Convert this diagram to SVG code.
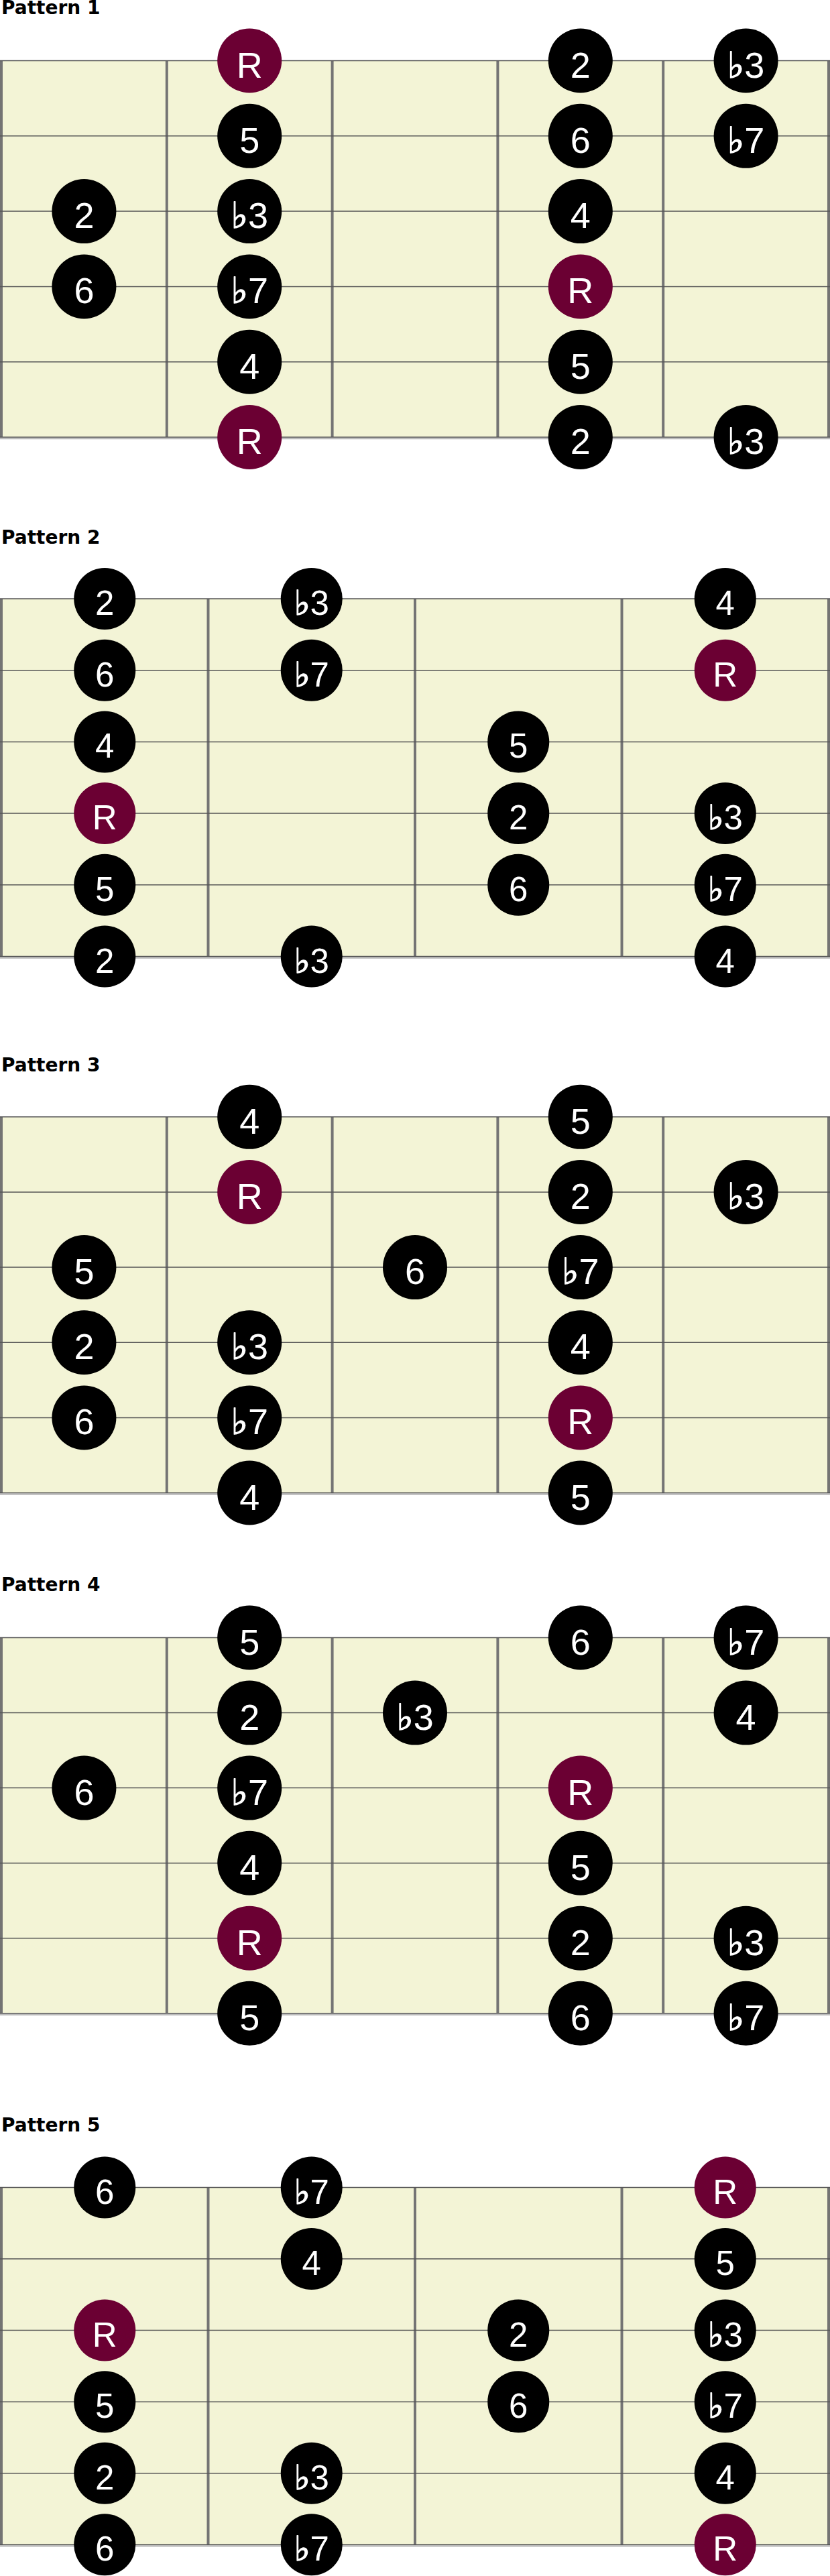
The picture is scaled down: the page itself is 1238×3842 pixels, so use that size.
<svg xmlns="http://www.w3.org/2000/svg" width="1238" height="3842" viewBox="0 0 1238 3842">
<style>
.title{font-family:"DejaVu Sans","Liberation Sans",sans-serif;font-weight:bold;font-size:28px;fill:#000}
.board{fill:#F3F4D6}
.fret{stroke:#747474;stroke-width:4}
.str{stroke:#555;stroke-width:1.5}
.edge{stroke:#bbb;stroke-width:2.5}
.n{fill:#000}
.r{fill:#6B0033}
.lb{font-family:"Liberation Sans","DejaVu Sans",sans-serif;fill:#fff;text-anchor:middle}
.fl{font-family:"DejaVu Sans",sans-serif;stroke:#fff;stroke-width:1.3}
.L .lb{font-size:54px}
.S .lb{font-size:51px}
</style>
<rect width="1238" height="3842" fill="#fff"/>

<!-- Pattern 1 -->
<g id="pattern1" class="L">
<text class="title" x="2" y="21">Pattern 1</text>
<g id="p1-board">
<rect class="board" x="0" y="90.5" width="1238" height="561.5"/>
<line class="edge" x1="0" y1="654" x2="1238" y2="654"/>
<g class="fret"><line x1="2" y1="90.5" x2="2" y2="652"/><line x1="248.8" y1="90.5" x2="248.8" y2="652"/><line x1="495.6" y1="90.5" x2="495.6" y2="652"/><line x1="742.4" y1="90.5" x2="742.4" y2="652"/><line x1="989.2" y1="90.5" x2="989.2" y2="652"/><line x1="1236" y1="90.5" x2="1236" y2="652"/></g>
<g class="str"><line x1="0" y1="90.5" x2="1238" y2="90.5"/><line x1="0" y1="202.8" x2="1238" y2="202.8"/><line x1="0" y1="315.1" x2="1238" y2="315.1"/><line x1="0" y1="427.4" x2="1238" y2="427.4"/><line x1="0" y1="539.7" x2="1238" y2="539.7"/><line x1="0" y1="652" x2="1238" y2="652"/></g>
</g>
<g id="p1-s1-f2"><circle class="r" cx="372.2" cy="90.5" r="48"/><text class="lb" x="372.2" y="115.5">R</text></g>
<g id="p1-s1-f4"><circle class="n" cx="865.8" cy="90.5" r="48"/><text class="lb" x="865.8" y="115.5">2</text></g>
<g id="p1-s1-f5"><circle class="n" cx="1112.6" cy="90.5" r="48"/><text class="lb" x="1112.6" y="115.5"><tspan class="fl">♭</tspan>3</text></g>
<g id="p1-s2-f2"><circle class="n" cx="372.2" cy="202.8" r="48"/><text class="lb" x="372.2" y="227.8">5</text></g>
<g id="p1-s2-f4"><circle class="n" cx="865.8" cy="202.8" r="48"/><text class="lb" x="865.8" y="227.8">6</text></g>
<g id="p1-s2-f5"><circle class="n" cx="1112.6" cy="202.8" r="48"/><text class="lb" x="1112.6" y="227.8"><tspan class="fl">♭</tspan>7</text></g>
<g id="p1-s3-f1"><circle class="n" cx="125.4" cy="315.1" r="48"/><text class="lb" x="125.4" y="340.1">2</text></g>
<g id="p1-s3-f2"><circle class="n" cx="372.2" cy="315.1" r="48"/><text class="lb" x="372.2" y="340.1"><tspan class="fl">♭</tspan>3</text></g>
<g id="p1-s3-f4"><circle class="n" cx="865.8" cy="315.1" r="48"/><text class="lb" x="865.8" y="340.1">4</text></g>
<g id="p1-s4-f1"><circle class="n" cx="125.4" cy="427.4" r="48"/><text class="lb" x="125.4" y="452.4">6</text></g>
<g id="p1-s4-f2"><circle class="n" cx="372.2" cy="427.4" r="48"/><text class="lb" x="372.2" y="452.4"><tspan class="fl">♭</tspan>7</text></g>
<g id="p1-s4-f4"><circle class="r" cx="865.8" cy="427.4" r="48"/><text class="lb" x="865.8" y="452.4">R</text></g>
<g id="p1-s5-f2"><circle class="n" cx="372.2" cy="539.7" r="48"/><text class="lb" x="372.2" y="564.7">4</text></g>
<g id="p1-s5-f4"><circle class="n" cx="865.8" cy="539.7" r="48"/><text class="lb" x="865.8" y="564.7">5</text></g>
<g id="p1-s6-f2"><circle class="r" cx="372.2" cy="652" r="48"/><text class="lb" x="372.2" y="677">R</text></g>
<g id="p1-s6-f4"><circle class="n" cx="865.8" cy="652" r="48"/><text class="lb" x="865.8" y="677">2</text></g>
<g id="p1-s6-f5"><circle class="n" cx="1112.6" cy="652" r="48"/><text class="lb" x="1112.6" y="677"><tspan class="fl">♭</tspan>3</text></g>
</g>

<!-- Pattern 2 -->
<g id="pattern2" class="S">
<text class="title" x="2" y="811">Pattern 2</text>
<g id="p2-board">
<rect class="board" x="0" y="893" width="1238" height="533.5"/>
<line class="edge" x1="0" y1="1428.5" x2="1238" y2="1428.5"/>
<g class="fret"><line x1="2" y1="893" x2="2" y2="1426.5"/><line x1="310.5" y1="893" x2="310.5" y2="1426.5"/><line x1="619" y1="893" x2="619" y2="1426.5"/><line x1="927.5" y1="893" x2="927.5" y2="1426.5"/><line x1="1236" y1="893" x2="1236" y2="1426.5"/></g>
<g class="str"><line x1="0" y1="893" x2="1238" y2="893"/><line x1="0" y1="999.7" x2="1238" y2="999.7"/><line x1="0" y1="1106.4" x2="1238" y2="1106.4"/><line x1="0" y1="1213.1" x2="1238" y2="1213.1"/><line x1="0" y1="1319.8" x2="1238" y2="1319.8"/><line x1="0" y1="1426.5" x2="1238" y2="1426.5"/></g>
</g>
<g id="p2-s1-f1"><circle class="n" cx="156.25" cy="893" r="46"/><text class="lb" x="156.25" y="917">2</text></g>
<g id="p2-s1-f2"><circle class="n" cx="464.75" cy="893" r="46"/><text class="lb" x="464.75" y="917"><tspan class="fl">♭</tspan>3</text></g>
<g id="p2-s1-f4"><circle class="n" cx="1081.75" cy="893" r="46"/><text class="lb" x="1081.75" y="917">4</text></g>
<g id="p2-s2-f1"><circle class="n" cx="156.25" cy="999.7" r="46"/><text class="lb" x="156.25" y="1023.7">6</text></g>
<g id="p2-s2-f2"><circle class="n" cx="464.75" cy="999.7" r="46"/><text class="lb" x="464.75" y="1023.7"><tspan class="fl">♭</tspan>7</text></g>
<g id="p2-s2-f4"><circle class="r" cx="1081.75" cy="999.7" r="46"/><text class="lb" x="1081.75" y="1023.7">R</text></g>
<g id="p2-s3-f1"><circle class="n" cx="156.25" cy="1106.4" r="46"/><text class="lb" x="156.25" y="1130.4">4</text></g>
<g id="p2-s3-f3"><circle class="n" cx="773.25" cy="1106.4" r="46"/><text class="lb" x="773.25" y="1130.4">5</text></g>
<g id="p2-s4-f1"><circle class="r" cx="156.25" cy="1213.1" r="46"/><text class="lb" x="156.25" y="1237.1">R</text></g>
<g id="p2-s4-f3"><circle class="n" cx="773.25" cy="1213.1" r="46"/><text class="lb" x="773.25" y="1237.1">2</text></g>
<g id="p2-s4-f4"><circle class="n" cx="1081.75" cy="1213.1" r="46"/><text class="lb" x="1081.75" y="1237.1"><tspan class="fl">♭</tspan>3</text></g>
<g id="p2-s5-f1"><circle class="n" cx="156.25" cy="1319.8" r="46"/><text class="lb" x="156.25" y="1343.8">5</text></g>
<g id="p2-s5-f3"><circle class="n" cx="773.25" cy="1319.8" r="46"/><text class="lb" x="773.25" y="1343.8">6</text></g>
<g id="p2-s5-f4"><circle class="n" cx="1081.75" cy="1319.8" r="46"/><text class="lb" x="1081.75" y="1343.8"><tspan class="fl">♭</tspan>7</text></g>
<g id="p2-s6-f1"><circle class="n" cx="156.25" cy="1426.5" r="46"/><text class="lb" x="156.25" y="1450.5">2</text></g>
<g id="p2-s6-f2"><circle class="n" cx="464.75" cy="1426.5" r="46"/><text class="lb" x="464.75" y="1450.5"><tspan class="fl">♭</tspan>3</text></g>
<g id="p2-s6-f4"><circle class="n" cx="1081.75" cy="1426.5" r="46"/><text class="lb" x="1081.75" y="1450.5">4</text></g>
</g>

<!-- Pattern 3 -->
<g id="pattern3" class="L">
<text class="title" x="2" y="1598">Pattern 3</text>
<g id="p3-board">
<rect class="board" x="0" y="1665.8" width="1238" height="560.7"/>
<line class="edge" x1="0" y1="2228.5" x2="1238" y2="2228.5"/>
<g class="fret"><line x1="2" y1="1665.8" x2="2" y2="2226.5"/><line x1="248.8" y1="1665.8" x2="248.8" y2="2226.5"/><line x1="495.6" y1="1665.8" x2="495.6" y2="2226.5"/><line x1="742.4" y1="1665.8" x2="742.4" y2="2226.5"/><line x1="989.2" y1="1665.8" x2="989.2" y2="2226.5"/><line x1="1236" y1="1665.8" x2="1236" y2="2226.5"/></g>
<g class="str"><line x1="0" y1="1665.8" x2="1238" y2="1665.8"/><line x1="0" y1="1777.9" x2="1238" y2="1777.9"/><line x1="0" y1="1890.1" x2="1238" y2="1890.1"/><line x1="0" y1="2002.2" x2="1238" y2="2002.2"/><line x1="0" y1="2114.4" x2="1238" y2="2114.4"/><line x1="0" y1="2226.5" x2="1238" y2="2226.5"/></g>
</g>
<g id="p3-s1-f2"><circle class="n" cx="372.2" cy="1665.8" r="48"/><text class="lb" x="372.2" y="1690.8">4</text></g>
<g id="p3-s1-f4"><circle class="n" cx="865.8" cy="1665.8" r="48"/><text class="lb" x="865.8" y="1690.8">5</text></g>
<g id="p3-s2-f2"><circle class="r" cx="372.2" cy="1777.9" r="48"/><text class="lb" x="372.2" y="1802.9">R</text></g>
<g id="p3-s2-f4"><circle class="n" cx="865.8" cy="1777.9" r="48"/><text class="lb" x="865.8" y="1802.9">2</text></g>
<g id="p3-s2-f5"><circle class="n" cx="1112.6" cy="1777.9" r="48"/><text class="lb" x="1112.6" y="1802.9"><tspan class="fl">♭</tspan>3</text></g>
<g id="p3-s3-f1"><circle class="n" cx="125.4" cy="1890.1" r="48"/><text class="lb" x="125.4" y="1915.1">5</text></g>
<g id="p3-s3-f3"><circle class="n" cx="619" cy="1890.1" r="48"/><text class="lb" x="619" y="1915.1">6</text></g>
<g id="p3-s3-f4"><circle class="n" cx="865.8" cy="1890.1" r="48"/><text class="lb" x="865.8" y="1915.1"><tspan class="fl">♭</tspan>7</text></g>
<g id="p3-s4-f1"><circle class="n" cx="125.4" cy="2002.2" r="48"/><text class="lb" x="125.4" y="2027.2">2</text></g>
<g id="p3-s4-f2"><circle class="n" cx="372.2" cy="2002.2" r="48"/><text class="lb" x="372.2" y="2027.2"><tspan class="fl">♭</tspan>3</text></g>
<g id="p3-s4-f4"><circle class="n" cx="865.8" cy="2002.2" r="48"/><text class="lb" x="865.8" y="2027.2">4</text></g>
<g id="p3-s5-f1"><circle class="n" cx="125.4" cy="2114.4" r="48"/><text class="lb" x="125.4" y="2139.4">6</text></g>
<g id="p3-s5-f2"><circle class="n" cx="372.2" cy="2114.4" r="48"/><text class="lb" x="372.2" y="2139.4"><tspan class="fl">♭</tspan>7</text></g>
<g id="p3-s5-f4"><circle class="r" cx="865.8" cy="2114.4" r="48"/><text class="lb" x="865.8" y="2139.4">R</text></g>
<g id="p3-s6-f2"><circle class="n" cx="372.2" cy="2226.5" r="48"/><text class="lb" x="372.2" y="2251.5">4</text></g>
<g id="p3-s6-f4"><circle class="n" cx="865.8" cy="2226.5" r="48"/><text class="lb" x="865.8" y="2251.5">5</text></g>
</g>

<!-- Pattern 4 -->
<g id="pattern4" class="L">
<text class="title" x="2" y="2373">Pattern 4</text>
<g id="p4-board">
<rect class="board" x="0" y="2442.5" width="1238" height="560.3"/>
<line class="edge" x1="0" y1="3004.8" x2="1238" y2="3004.8"/>
<g class="fret"><line x1="2" y1="2442.5" x2="2" y2="3002.8"/><line x1="248.8" y1="2442.5" x2="248.8" y2="3002.8"/><line x1="495.6" y1="2442.5" x2="495.6" y2="3002.8"/><line x1="742.4" y1="2442.5" x2="742.4" y2="3002.8"/><line x1="989.2" y1="2442.5" x2="989.2" y2="3002.8"/><line x1="1236" y1="2442.5" x2="1236" y2="3002.8"/></g>
<g class="str"><line x1="0" y1="2442.5" x2="1238" y2="2442.5"/><line x1="0" y1="2554.6" x2="1238" y2="2554.6"/><line x1="0" y1="2666.6" x2="1238" y2="2666.6"/><line x1="0" y1="2778.7" x2="1238" y2="2778.7"/><line x1="0" y1="2890.7" x2="1238" y2="2890.7"/><line x1="0" y1="3002.8" x2="1238" y2="3002.8"/></g>
</g>
<g id="p4-s1-f2"><circle class="n" cx="372.2" cy="2442.5" r="48"/><text class="lb" x="372.2" y="2467.5">5</text></g>
<g id="p4-s1-f4"><circle class="n" cx="865.8" cy="2442.5" r="48"/><text class="lb" x="865.8" y="2467.5">6</text></g>
<g id="p4-s1-f5"><circle class="n" cx="1112.6" cy="2442.5" r="48"/><text class="lb" x="1112.6" y="2467.5"><tspan class="fl">♭</tspan>7</text></g>
<g id="p4-s2-f2"><circle class="n" cx="372.2" cy="2554.6" r="48"/><text class="lb" x="372.2" y="2579.6">2</text></g>
<g id="p4-s2-f3"><circle class="n" cx="619" cy="2554.6" r="48"/><text class="lb" x="619" y="2579.6"><tspan class="fl">♭</tspan>3</text></g>
<g id="p4-s2-f5"><circle class="n" cx="1112.6" cy="2554.6" r="48"/><text class="lb" x="1112.6" y="2579.6">4</text></g>
<g id="p4-s3-f1"><circle class="n" cx="125.4" cy="2666.6" r="48"/><text class="lb" x="125.4" y="2691.6">6</text></g>
<g id="p4-s3-f2"><circle class="n" cx="372.2" cy="2666.6" r="48"/><text class="lb" x="372.2" y="2691.6"><tspan class="fl">♭</tspan>7</text></g>
<g id="p4-s3-f4"><circle class="r" cx="865.8" cy="2666.6" r="48"/><text class="lb" x="865.8" y="2691.6">R</text></g>
<g id="p4-s4-f2"><circle class="n" cx="372.2" cy="2778.7" r="48"/><text class="lb" x="372.2" y="2803.7">4</text></g>
<g id="p4-s4-f4"><circle class="n" cx="865.8" cy="2778.7" r="48"/><text class="lb" x="865.8" y="2803.7">5</text></g>
<g id="p4-s5-f2"><circle class="r" cx="372.2" cy="2890.7" r="48"/><text class="lb" x="372.2" y="2915.7">R</text></g>
<g id="p4-s5-f4"><circle class="n" cx="865.8" cy="2890.7" r="48"/><text class="lb" x="865.8" y="2915.7">2</text></g>
<g id="p4-s5-f5"><circle class="n" cx="1112.6" cy="2890.7" r="48"/><text class="lb" x="1112.6" y="2915.7"><tspan class="fl">♭</tspan>3</text></g>
<g id="p4-s6-f2"><circle class="n" cx="372.2" cy="3002.8" r="48"/><text class="lb" x="372.2" y="3027.8">5</text></g>
<g id="p4-s6-f4"><circle class="n" cx="865.8" cy="3002.8" r="48"/><text class="lb" x="865.8" y="3027.8">6</text></g>
<g id="p4-s6-f5"><circle class="n" cx="1112.6" cy="3002.8" r="48"/><text class="lb" x="1112.6" y="3027.8"><tspan class="fl">♭</tspan>7</text></g>
</g>

<!-- Pattern 5 -->
<g id="pattern5" class="S">
<text class="title" x="2" y="3179">Pattern 5</text>
<g id="p5-board">
<rect class="board" x="0" y="3262.6" width="1238" height="532.6"/>
<line class="edge" x1="0" y1="3797.2" x2="1238" y2="3797.2"/>
<g class="fret"><line x1="2" y1="3262.6" x2="2" y2="3795.2"/><line x1="310.5" y1="3262.6" x2="310.5" y2="3795.2"/><line x1="619" y1="3262.6" x2="619" y2="3795.2"/><line x1="927.5" y1="3262.6" x2="927.5" y2="3795.2"/><line x1="1236" y1="3262.6" x2="1236" y2="3795.2"/></g>
<g class="str"><line x1="0" y1="3262.6" x2="1238" y2="3262.6"/><line x1="0" y1="3369.1" x2="1238" y2="3369.1"/><line x1="0" y1="3475.6" x2="1238" y2="3475.6"/><line x1="0" y1="3582.2" x2="1238" y2="3582.2"/><line x1="0" y1="3688.7" x2="1238" y2="3688.7"/><line x1="0" y1="3795.2" x2="1238" y2="3795.2"/></g>
</g>
<g id="p5-s1-f1"><circle class="n" cx="156.25" cy="3262.6" r="46"/><text class="lb" x="156.25" y="3286.6">6</text></g>
<g id="p5-s1-f2"><circle class="n" cx="464.75" cy="3262.6" r="46"/><text class="lb" x="464.75" y="3286.6"><tspan class="fl">♭</tspan>7</text></g>
<g id="p5-s1-f4"><circle class="r" cx="1081.75" cy="3262.6" r="46"/><text class="lb" x="1081.75" y="3286.6">R</text></g>
<g id="p5-s2-f2"><circle class="n" cx="464.75" cy="3369.1" r="46"/><text class="lb" x="464.75" y="3393.1">4</text></g>
<g id="p5-s2-f4"><circle class="n" cx="1081.75" cy="3369.1" r="46"/><text class="lb" x="1081.75" y="3393.1">5</text></g>
<g id="p5-s3-f1"><circle class="r" cx="156.25" cy="3475.6" r="46"/><text class="lb" x="156.25" y="3499.6">R</text></g>
<g id="p5-s3-f3"><circle class="n" cx="773.25" cy="3475.6" r="46"/><text class="lb" x="773.25" y="3499.6">2</text></g>
<g id="p5-s3-f4"><circle class="n" cx="1081.75" cy="3475.6" r="46"/><text class="lb" x="1081.75" y="3499.6"><tspan class="fl">♭</tspan>3</text></g>
<g id="p5-s4-f1"><circle class="n" cx="156.25" cy="3582.2" r="46"/><text class="lb" x="156.25" y="3606.2">5</text></g>
<g id="p5-s4-f3"><circle class="n" cx="773.25" cy="3582.2" r="46"/><text class="lb" x="773.25" y="3606.2">6</text></g>
<g id="p5-s4-f4"><circle class="n" cx="1081.75" cy="3582.2" r="46"/><text class="lb" x="1081.75" y="3606.2"><tspan class="fl">♭</tspan>7</text></g>
<g id="p5-s5-f1"><circle class="n" cx="156.25" cy="3688.7" r="46"/><text class="lb" x="156.25" y="3712.7">2</text></g>
<g id="p5-s5-f2"><circle class="n" cx="464.75" cy="3688.7" r="46"/><text class="lb" x="464.75" y="3712.7"><tspan class="fl">♭</tspan>3</text></g>
<g id="p5-s5-f4"><circle class="n" cx="1081.75" cy="3688.7" r="46"/><text class="lb" x="1081.75" y="3712.7">4</text></g>
<g id="p5-s6-f1"><circle class="n" cx="156.25" cy="3795.2" r="46"/><text class="lb" x="156.25" y="3819.2">6</text></g>
<g id="p5-s6-f2"><circle class="n" cx="464.75" cy="3795.2" r="46"/><text class="lb" x="464.75" y="3819.2"><tspan class="fl">♭</tspan>7</text></g>
<g id="p5-s6-f4"><circle class="r" cx="1081.75" cy="3795.2" r="46"/><text class="lb" x="1081.75" y="3819.2">R</text></g>
</g>
</svg>
